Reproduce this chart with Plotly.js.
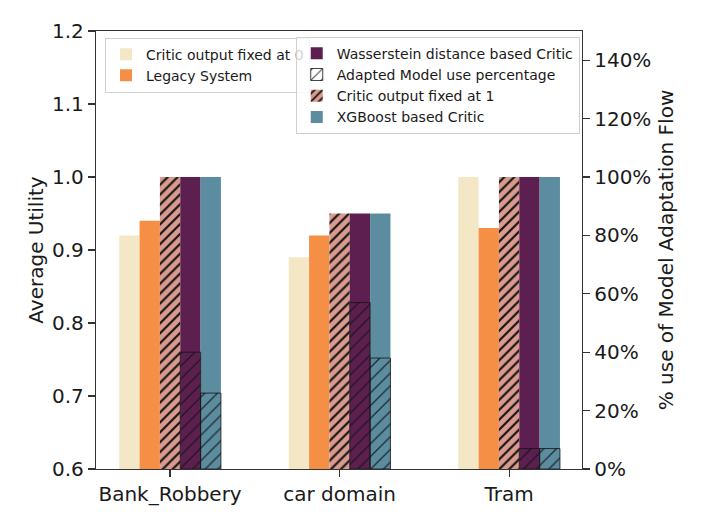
<!DOCTYPE html>
<html>
<head>
<meta charset="utf-8">
<script src="https://cdn.plot.ly/plotly-3.0.1.min.js"></script>
<style>html,body{margin:0;padding:0;background:#fff;}#chart{width:707px;height:530px;}</style>
</head>
<body>
<div id="chart"></div>
<script>
const categories = ["Bank_Robbery", "car domain", "Tram"];
const criticFixed0 = [0.92, 0.89, 1.00];
const legacySystem = [0.94, 0.92, 0.93];
const criticFixed1 = [1.00, 0.95, 1.00];
const wasserstein = [1.00, 0.95, 1.00];
const xgboost = [1.00, 0.95, 1.00];
const adaptedWasserstein = [0.40, 0.57, 0.07];
const adaptedXgboost = [0.26, 0.38, 0.07];
const leftTicks = [0.6, 0.7, 0.8, 0.9, 1.0, 1.1, 1.2];
const rightTicks = [0, 0.2, 0.4, 0.6, 0.8, 1.0, 1.2, 1.4];

const W = 0.12;
const FONT = "DejaVu Sans, sans-serif";

function bar(name, y, color, slot, extra) {
  return Object.assign({
    type: 'bar', name: name, x: categories, y: y,
    offset: slot * W, width: W,
    marker: {color: color, line: {width: 0}},
    hoverinfo: 'skip'
  }, extra || {});
}

const adaptedMarker = {
  color: 'rgba(0,0,0,0)', line: {width: 1, color: 'rgba(20,20,20,0.8)'},
  pattern: {shape: '/', fgcolor: 'rgba(20,20,20,0.8)', bgcolor: 'rgba(0,0,0,0)', size: 9, solidity: 0.15}
};

const traces = [
  bar("Critic output fixed at 0", criticFixed0, '#F3E7C6', -2.5, {legend: 'legend', legendrank: 1}),
  bar("Legacy System", legacySystem, '#F58F45', -1.5, {legend: 'legend', legendrank: 2}),
  bar("Critic output fixed at 1", criticFixed1, '#DA9A8E', -0.5, {
    legend: 'legend2', legendrank: 3,
    marker: {color: '#DA9A8E', line: {width: 0},
      pattern: {shape: '/', fgcolor: '#111111', bgcolor: '#DA9A8E', fillmode: 'replace', size: 7, solidity: 0.3}}
  }),
  bar("Wasserstein distance based Critic", wasserstein, '#5C1F50', 0.5, {legend: 'legend2', legendrank: 1}),
  bar("XGBoost based Critic", xgboost, '#5B8CA0', 1.5, {legend: 'legend2', legendrank: 4}),
  bar("Adapted Model use percentage", adaptedWasserstein, 'rgba(0,0,0,0)', 0.5, {
    yaxis: 'y2', legend: 'legend2', legendrank: 2, legendgroup: 'adapted', marker: adaptedMarker
  }),
  bar("Adapted Model use percentage", adaptedXgboost, 'rgba(0,0,0,0)', 1.5, {
    yaxis: 'y2', legend: 'legend2', legendgroup: 'adapted', showlegend: false, marker: adaptedMarker
  })
];

const axisCommon = {
  showline: true, linecolor: '#333', linewidth: 1.2,
  ticks: 'outside', ticklen: 7, tickwidth: 1.2, tickcolor: '#333',
  showgrid: false, zeroline: false,
  tickfont: {family: FONT, size: 20, color: '#1a1a1a'}
};

const layout = {
  width: 707, height: 530,
  margin: {l: 96, r: 125, t: 31, b: 61},
  paper_bgcolor: '#fff', plot_bgcolor: '#fff',
  barmode: 'overlay',
  font: {family: FONT, color: '#1a1a1a'},
  xaxis: Object.assign({}, axisCommon, {
    type: 'category', range: [-0.437, 2.43], mirror: true
  }),
  yaxis: Object.assign({}, axisCommon, {
    range: [0.6, 1.2], tickvals: leftTicks, tickformat: '.1f',
    title: {text: 'Average Utility', font: {family: FONT, size: 20, color: '#1a1a1a'}, standoff: 3}
  }),
  yaxis2: Object.assign({}, axisCommon, {
    overlaying: 'y', side: 'right', range: [0, 1.5], tickvals: rightTicks, tickformat: '.0%',
    title: {text: '% use of Model Adaptation Flow', font: {family: FONT, size: 20, color: '#1a1a1a'}, standoff: 8}
  }),
  legend: {
    x: 0.0185, y: 0.985, xanchor: 'left', yanchor: 'top',
    bgcolor: 'rgba(255,255,255,0.8)', bordercolor: '#d0d0d0', borderwidth: 1,
    font: {family: FONT, size: 14, color: '#1a1a1a'},
    traceorder: 'normal', tracegroupgap: 0
  },
  legend2: {
    x: 0.411, y: 0.987, xanchor: 'left', yanchor: 'top',
    bgcolor: 'rgba(255,255,255,0.8)', bordercolor: '#d0d0d0', borderwidth: 1,
    font: {family: FONT, size: 14, color: '#1a1a1a'},
    traceorder: 'normal', tracegroupgap: 0
  }
};

Plotly.newPlot('chart', traces, layout, {displayModeBar: false, staticPlot: true});
</script>
</body>
</html>
